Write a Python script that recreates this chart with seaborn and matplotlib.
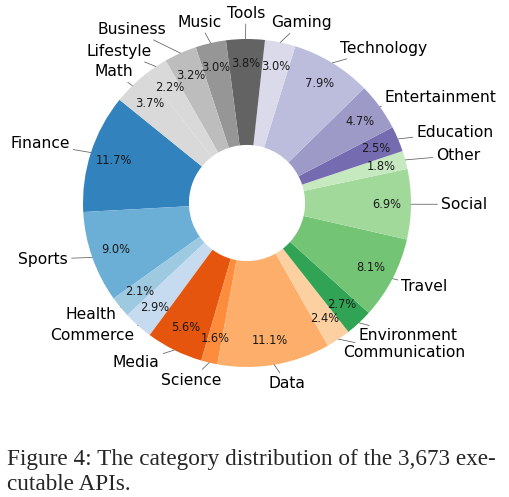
import matplotlib
matplotlib.use("Agg")
import matplotlib.pyplot as plt
import numpy as np
import seaborn as sns

# ---------------------------
# data
# ---------------------------
categories = ["Finance", "Sports", "Health", "Commerce", "Media", "Science",
              "Data", "Communication", "Environment", "Travel", "Social",
              "Other", "Education", "Entertainment", "Technology", "Gaming",
              "Tools", "Music", "Business", "Lifestyle", "Math"]
shares = [11.7, 9.0, 2.1, 2.9, 5.6, 1.6,
          11.1, 2.4, 2.7, 8.1, 6.9,
          1.8, 2.5, 4.7, 7.9, 3.0,
          3.8, 3.0, 3.2, 2.2, 3.7]

caption_lines = ["Figure 4: The category distribution of the 3,673 exe-",
                 "cutable APIs."]

# label offsets (points) from the outer edge of each wedge, to keep labels apart
label_offsets = {
    "Finance": (-51, 8.6), "Sports": (-49, -1.8), "Health": (-29, -7),
    "Commerce": (-46, -9.6), "Media": (-38, -12), "Science": (-18, -17.5),
    "Data": (13, -19), "Communication": (66, -13.6), "Environment": (49, -13),
    "Travel": (32, -8), "Social": (53, 0), "Other": (53, 4.6),
    "Education": (57, 6.7), "Entertainment": (61, 9.3), "Technology": (51, 14.3),
    "Gaming": (21, 19.6), "Tools": (0.6, 26), "Music": (-11.5, 21),
    "Business": (-48, 23.7), "Lifestyle": (-37, 15), "Math": (-19, 14),
}

sns.set_style("white")
colors = sns.color_palette("tab20c", 20)
colors = colors + [colors[19]]  # Math reuses the lightest grey

fig = plt.figure(figsize=(509 / 72, 497 / 72), dpi=72)
ax = fig.add_axes([0, 0, 1, 1])

wedges, texts, autotexts = ax.pie(
    shares,
    colors=colors,
    startangle=141,
    counterclock=True,
    radius=1.0,
    wedgeprops=dict(width=0.646, linewidth=0),
    autopct=lambda p: f"{p:.1f}%",
    pctdistance=0.85,
    textprops=dict(fontsize=11.5, color="#1a1a1a"),
)

for w, name in zip(wedges, categories):
    ang = np.deg2rad((w.theta1 + w.theta2) / 2)
    edge = (np.cos(ang), np.sin(ang))
    ax.annotate(name, xy=edge, xytext=label_offsets[name],
                textcoords="offset points", ha="center", va="center",
                fontsize=15.5, color="black",
                arrowprops=dict(arrowstyle="-", color="#666666", lw=0.8,
                                shrinkA=1, shrinkB=0))

ax.set_xlim(-247 / 164, (509 - 247) / 164)
ax.set_ylim(-(497 - 203) / 164, 203 / 164)
ax.set_aspect("auto")
ax.axis("off")

fig.text(7 / 509, 1 - 465 / 497, caption_lines[0], fontfamily="Liberation Serif",
         fontsize=23.2, va="baseline", ha="left")
fig.text(7 / 509, 1 - 490 / 497, caption_lines[1], fontfamily="Liberation Serif",
         fontsize=23.2, va="baseline", ha="left")

fig.savefig("out.png", dpi=72)
